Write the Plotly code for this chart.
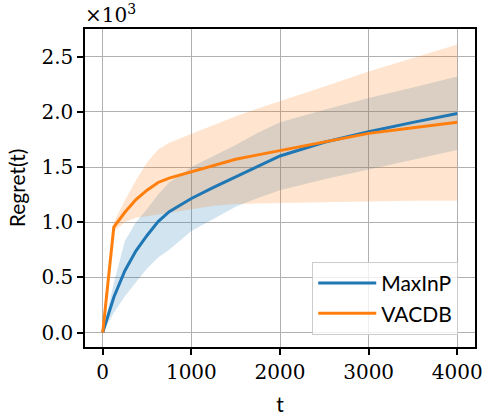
import plotly.graph_objects as go

# time steps and regret curves (mean with +/- band)
t = [0, 125, 250, 375, 500, 625, 750, 1000, 1250, 1500, 1750, 2000, 2500, 3000, 3500, 4000]

maxinp_mean = [0, 320, 560, 740, 880, 1005, 1095, 1215, 1315, 1410, 1500, 1600, 1725, 1820, 1905, 1985]
maxinp_upper = [0, 450, 830, 1000, 1120, 1250, 1360, 1500, 1600, 1700, 1810, 1905, 2020, 2125, 2220, 2320]
maxinp_lower = [0, 180, 330, 450, 580, 680, 750, 920, 1030, 1140, 1220, 1290, 1390, 1475, 1565, 1655]

vacdb_mean = [0, 955, 1090, 1205, 1290, 1360, 1400, 1455, 1515, 1570, 1610, 1650, 1725, 1805, 1855, 1905]
vacdb_upper = [0, 1000, 1200, 1380, 1540, 1660, 1720, 1800, 1880, 1960, 2030, 2095, 2230, 2365, 2490, 2610]
vacdb_lower = [0, 915, 1000, 1040, 1055, 1070, 1090, 1120, 1150, 1165, 1172, 1175, 1180, 1190, 1195, 1195]

y_ticks = [0, 500, 1000, 1500, 2000, 2500]
y_tick_labels = ["0.0", "0.5", "1.0", "1.5", "2.0", "2.5"]
x_ticks = [0, 1000, 2000, 3000, 4000]

BLUE = "#1f77b4"
ORANGE = "#ff7f0e"
SERIF = "DejaVu Serif"
SANS = "Lato"

series = [
    ("MaxInP", maxinp_mean, maxinp_upper, maxinp_lower, BLUE, "rgba(31,119,180,0.2)"),
    ("VACDB", vacdb_mean, vacdb_upper, vacdb_lower, ORANGE, "rgba(255,127,14,0.2)"),
]

fig = go.Figure()

# shaded bands
for name, mean, upper, lower, color, fill in series:
    fig.add_trace(go.Scatter(x=t, y=upper, mode="lines", line=dict(width=0),
                             showlegend=False, hoverinfo="skip"))
    fig.add_trace(go.Scatter(x=t, y=lower, mode="lines", line=dict(width=0),
                             fill="tonexty", fillcolor=fill,
                             showlegend=False, hoverinfo="skip"))

# mean lines
for name, mean, upper, lower, color, fill in series:
    fig.add_trace(go.Scatter(x=t, y=mean, mode="lines", name=name,
                             line=dict(color=color, width=3)))

axis_common = dict(
    showline=True, linecolor="black", linewidth=1.5, mirror=True,
    ticks="outside", ticklen=6, tickwidth=1.5, tickcolor="black",
    showgrid=True, gridcolor="#b0b0b0", gridwidth=1, zeroline=False,
    automargin=False, ticklabeloverflow="allow",
    tickfont=dict(family=SERIF, size=20, color="black"),
)

fig.update_xaxes(range=[-200, 4200], tickvals=x_ticks,
                 title=dict(text="t", font=dict(family=SANS, size=21, color="black"),
                            standoff=16),
                 **axis_common)
fig.update_yaxes(range=[-131, 2751], tickvals=y_ticks, ticktext=y_tick_labels,
                 title=dict(text="Regret(t)", font=dict(family=SANS, size=21, color="black"),
                            standoff=10),
                 **axis_common)

fig.add_annotation(text="×10<sup>3</sup>", xref="paper", yref="paper",
                   x=-0.005, y=1.0, xanchor="left", yanchor="bottom", showarrow=False,
                   font=dict(family=SERIF, size=20, color="black"))

fig.update_layout(
    width=483, height=416,
    margin=dict(l=85, r=8, t=29, b=69, autoexpand=False),
    plot_bgcolor="white", paper_bgcolor="white",
    legend=dict(x=0.957, y=0.038, xanchor="right", yanchor="bottom",
                traceorder="normal",
                bgcolor="rgba(255,255,255,0.8)", bordercolor="#cccccc", borderwidth=1,
                font=dict(family=SANS, size=21, color="black"),
                itemwidth=58, tracegroupgap=0),
)

# drop the browser's default page margin so the figure sits at the window corner
fig.write_html("out.html", config={"displayModeBar": False},
               post_script="document.body.style.margin='0';")
